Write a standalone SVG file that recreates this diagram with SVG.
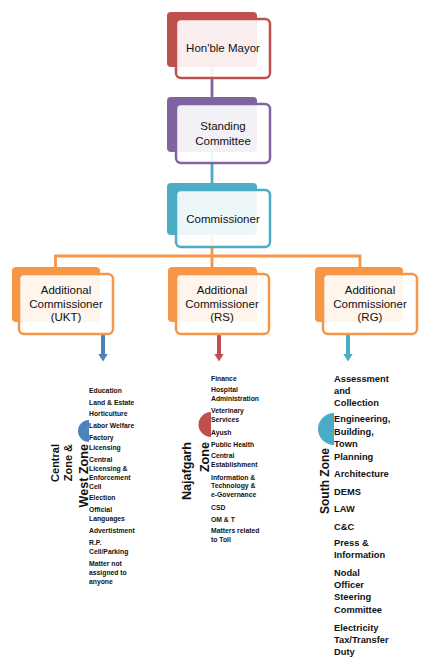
<svg xmlns="http://www.w3.org/2000/svg" width="429" height="657" viewBox="0 0 429 657">
<style>
.bt{font-family:"Liberation Sans",Arial,sans-serif;font-size:11.5px;fill:#111;text-anchor:middle}
.zl{font-family:"Liberation Sans",Arial,sans-serif;font-weight:bold;fill:#111;text-anchor:end}
.li{font-family:"Liberation Sans",Arial,sans-serif;font-weight:bold;font-size:6.8px;fill:#111}
.ls{font-family:"Liberation Sans",Arial,sans-serif;font-weight:bold;font-size:9.3px;fill:#111}
.fr{fill:#fff;fill-opacity:0.9;stroke-width:2.5}
.conn{fill:none;stroke-width:2.8}
</style>
<defs>
<marker id="ab" viewBox="0 0 8 10" refX="0.5" refY="5" markerWidth="8" markerHeight="10" markerUnits="userSpaceOnUse" orient="auto"><path d="M0,0 L8,5 L0,10 Z" fill="#4F81BD"/></marker>
<marker id="ar" viewBox="0 0 8 10" refX="0.5" refY="5" markerWidth="8" markerHeight="10" markerUnits="userSpaceOnUse" orient="auto"><path d="M0,0 L8,5 L0,10 Z" fill="#C0504D"/></marker>
<marker id="at" viewBox="0 0 8 10" refX="0.5" refY="5" markerWidth="8" markerHeight="10" markerUnits="userSpaceOnUse" orient="auto"><path d="M0,0 L8,5 L0,10 Z" fill="#4BACC6"/></marker>
</defs>
<rect width="429" height="657" fill="#fff"/>
<g id="connectors">
<line class="conn" x1="212" y1="67" x2="212" y2="97" stroke="#8064A2"/>
<line class="conn" x1="212" y1="152" x2="212" y2="183" stroke="#4BACC6"/>
<path class="conn" d="M212,235 V256 M55.5,268 V256 H360 V268 M212,256 V268" stroke="#F79646"/>
<line x1="103" y1="334" x2="103" y2="354" stroke="#4F81BD" stroke-width="4" marker-end="url(#ab)"/>
<line x1="219" y1="334" x2="219" y2="354" stroke="#C0504D" stroke-width="4" marker-end="url(#ar)"/>
<line x1="348" y1="334" x2="348" y2="354" stroke="#4BACC6" stroke-width="4" marker-end="url(#at)"/>
</g>
<g id="mayor">
<rect x="167" y="12" width="90" height="55" rx="4" fill="#C0504D"/>
<rect class="fr" x="176" y="19" width="94" height="59" rx="5" stroke="#C0504D"/>
<text class="bt" x="223" y="52">Hon'ble Mayor</text>
</g>
<g id="standing-committee">
<rect x="167" y="97" width="90" height="55" rx="4" fill="#8064A2"/>
<rect class="fr" x="176" y="104" width="94" height="59" rx="5" stroke="#8064A2"/>
<text class="bt" x="223" y="130">Standing</text>
<text class="bt" x="223" y="145">Committee</text>
</g>
<g id="commissioner">
<rect x="167" y="183" width="90" height="52" rx="4" fill="#4BACC6"/>
<rect class="fr" x="176" y="190" width="94" height="57" rx="5" stroke="#4BACC6"/>
<text class="bt" x="223" y="222.5">Commissioner</text>
</g>
<g id="addl-ukt">
<rect x="12" y="267" width="88" height="55" rx="4" fill="#F79646"/>
<rect class="fr" x="19" y="274" width="94" height="60" rx="5" stroke="#F79646"/>
<text class="bt" x="66" y="294">Additional</text>
<text class="bt" x="66" y="307.5">Commissioner</text>
<text class="bt" x="66" y="320.5">(UKT)</text>
</g>
<g id="addl-rs">
<rect x="168" y="267" width="89" height="55" rx="4" fill="#F79646"/>
<rect class="fr" x="176" y="274" width="93" height="60" rx="5" stroke="#F79646"/>
<text class="bt" x="222" y="294">Additional</text>
<text class="bt" x="222" y="307.5">Commissioner</text>
<text class="bt" x="222" y="320.5">(RS)</text>
</g>
<g id="addl-rg">
<rect x="315" y="267" width="88" height="55" rx="4" fill="#F79646"/>
<rect class="fr" x="323" y="274" width="94" height="60" rx="5" stroke="#F79646"/>
<text class="bt" x="370" y="294">Additional</text>
<text class="bt" x="370" y="307.5">Commissioner</text>
<text class="bt" x="370" y="320.5">(RG)</text>
</g>
<g id="central-west-zone">
<path d="M89,420 A11,11 0 0,0 89,442 Z" fill="#4F81BD"/>
<text class="zl" font-size="11" transform="translate(58.5,444) rotate(-90)">Central</text>
<text class="zl" font-size="11" transform="translate(72,444) rotate(-90)">Zone &amp;</text>
<text class="zl" font-size="12.6" transform="translate(88,444) rotate(-90)">West Zone</text>
<text class="li" x="89" y="393">Education</text>
<text class="li" x="89" y="404.7">Land &amp; Estate</text>
<text class="li" x="89" y="416.4">Horticulture</text>
<text class="li" x="89" y="428">Labor Welfare</text>
<text class="li" x="89" y="440.4">Factory</text>
<text class="li" x="89" y="450">Licensing</text>
<text class="li" x="89" y="461.7">Central</text>
<text class="li" x="89" y="471">Licensing &amp;</text>
<text class="li" x="89" y="480">Enforcement</text>
<text class="li" x="89" y="488.5">Cell</text>
<text class="li" x="89" y="500">Election</text>
<text class="li" x="89" y="511.7">Official</text>
<text class="li" x="89" y="521.4">Languages</text>
<text class="li" x="89" y="533.4">Advertistment</text>
<text class="li" x="89" y="545">R.P.</text>
<text class="li" x="89" y="554.4">Cell/Parking</text>
<text class="li" x="89" y="566">Matter not</text>
<text class="li" x="89" y="575.4">assigned to</text>
<text class="li" x="89" y="584">anyone</text>
</g>
<g id="najafgarh-zone">
<path d="M211,412 A12.5,12.5 0 0,0 211,437 Z" fill="#C0504D"/>
<text class="zl" font-size="12.6" transform="translate(191,442) rotate(-90)">Najafgarh</text>
<text class="zl" font-size="12.6" transform="translate(208.5,442) rotate(-90)">Zone</text>
<text class="li" x="211" y="380.7">Finance</text>
<text class="li" x="211" y="392.4">Hospital</text>
<text class="li" x="211" y="401.4">Administration</text>
<text class="li" x="211" y="413.4">Veterinary</text>
<text class="li" x="211" y="422.4">Services</text>
<text class="li" x="211" y="434.7">Ayush</text>
<text class="li" x="211" y="446.7">Public Health</text>
<text class="li" x="211" y="458.4">Central</text>
<text class="li" x="211" y="467.4">Establishment</text>
<text class="li" x="211" y="479.7">Information &amp;</text>
<text class="li" x="211" y="488.4">Technology &amp;</text>
<text class="li" x="211" y="497.4">e-Governance</text>
<text class="li" x="211" y="509.7">CSD</text>
<text class="li" x="211" y="521.7">OM &amp; T</text>
<text class="li" x="211" y="533.1">Matters related</text>
<text class="li" x="211" y="542.4">to Toll</text>
</g>
<g id="south-zone">
<path d="M334,413 A16,16 0 0,0 334,445 Z" fill="#4BACC6"/>
<text class="zl" font-size="12" transform="translate(329,448) rotate(-90)">South Zone</text>
<text class="ls" x="334" y="382.3">Assessment</text>
<text class="ls" x="334" y="394">and</text>
<text class="ls" x="334" y="406">Collection</text>
<text class="ls" x="334" y="422">Engineering,</text>
<text class="ls" x="334" y="434.5">Building,</text>
<text class="ls" x="334" y="447">Town</text>
<text class="ls" x="334" y="459.5">Planning</text>
<text class="ls" x="334" y="476.6">Architecture</text>
<text class="ls" x="334" y="494.5">DEMS</text>
<text class="ls" x="334" y="511.5">LAW</text>
<text class="ls" x="334" y="529.5">C&amp;C</text>
<text class="ls" x="334" y="545.8">Press &amp;</text>
<text class="ls" x="334" y="557.8">Information</text>
<text class="ls" x="334" y="575.5">Nodal</text>
<text class="ls" x="334" y="587.5">Officer</text>
<text class="ls" x="334" y="600">Steering</text>
<text class="ls" x="334" y="613">Committee</text>
<text class="ls" x="334" y="631">Electricity</text>
<text class="ls" x="334" y="642.6">Tax/Transfer</text>
<text class="ls" x="334" y="655">Duty</text>
</g>
</svg>
